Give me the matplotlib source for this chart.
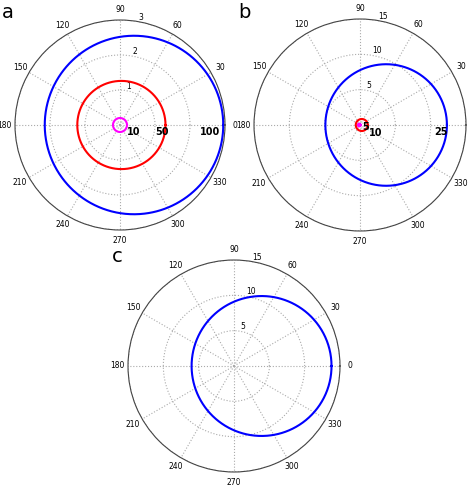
import numpy as np
import matplotlib.pyplot as plt

# circles in polar plots: (centre offset along 0 deg, radius)
a_offsets = [0.0, 0.04, 0.4]
a_radii = [0.2, 1.26, 2.55]
a_colors = ["magenta", "red", "blue"]
a_rticks = [1, 2, 3]
a_marks = ["10", "50", "100"]
a_mark_r = [0.45, 1.22, 2.58]
a_mark_ang = [-26, -9.5, -4.5]

b_offsets = [-0.1, 0.25, 3.7]
b_radii = [0.2, 0.85, 8.6]
b_colors = ["magenta", "red", "blue"]
b_rticks = [5, 10, 15]
b_marks = ["5", "10", "25"]
b_mark_r = [0.8, 2.5, 11.5]
b_mark_ang = [-20, -26, -5]

c_offsets = [3.9]
c_radii = [9.9]
c_colors = ["blue"]
c_rticks = [5, 10, 15]

theta = np.linspace(0, 2 * np.pi, 721)


def circle_r(d, R):
    return d * np.cos(theta) + np.sqrt(R**2 - (d * np.sin(theta)) ** 2)


def setup(ax, rticks):
    ax.set_ylim(0, rticks[-1])
    ax.set_yticks(rticks)
    ax.set_yticklabels([str(t) for t in rticks], fontsize=5.5)
    ax.set_rlabel_position(80)
    ax.set_xticks(np.deg2rad(np.arange(0, 360, 30)))
    ax.set_xticklabels([str(a) for a in range(0, 360, 30)], fontsize=5.5)
    ax.tick_params(axis="x", pad=-3)
    ax.grid(True, color="#aaaaaa", linestyle=":", linewidth=0.8)
    ax.spines["polar"].set_color("#444444")
    ax.spines["polar"].set_linewidth(0.8)


fig = plt.figure(figsize=(4.74, 4.95), dpi=100)
W, H = 474, 495

def make_ax(cx, cy, r):
    return fig.add_axes([(cx - r) / W, (H - cy - r) / H, 2 * r / W, 2 * r / H],
                        projection="polar")

ax_a = make_ax(120, 125, 105)
setup(ax_a, a_rticks)
for d, R, c in zip(a_offsets, a_radii, a_colors):
    ax_a.plot(theta, circle_r(d, R), color=c, lw=1.5)
for m, r, ang in zip(a_marks, a_mark_r, a_mark_ang):
    ax_a.text(np.deg2rad(ang), r, m, fontsize=7, fontweight="bold", ha="center", va="center")

ax_b = make_ax(360, 125, 106)
setup(ax_b, b_rticks)
for d, R, c in zip(b_offsets, b_radii, b_colors):
    ax_b.plot(theta, circle_r(d, R), color=c, lw=1.5)
for m, r, ang in zip(b_marks, b_mark_r, b_mark_ang):
    ax_b.text(np.deg2rad(ang), r, m, fontsize=7, fontweight="bold", ha="center", va="center")

ax_c = make_ax(234, 366, 106)
setup(ax_c, c_rticks)
for d, R, c in zip(c_offsets, c_radii, c_colors):
    ax_c.plot(theta, circle_r(d, R), color=c, lw=1.5)

fig.text(2 / W, 1 - 18 / H, "a", fontsize=14)
fig.text(238 / W, 1 - 18 / H, "b", fontsize=14)
fig.text(112 / W, 1 - 262 / H, "c", fontsize=14)

fig.savefig("out.png", dpi=100)
